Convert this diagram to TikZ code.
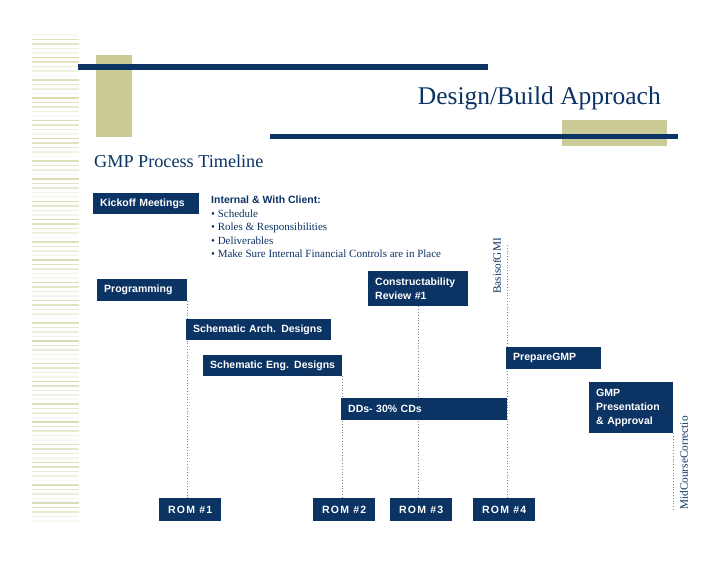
\documentclass[tikz,border=0pt]{standalone}
\usepackage{fontspec}
\setmainfont{Liberation Serif}
\setsansfont{Liberation Sans}
\usepackage{xcolor}
\usetikzlibrary{positioning, calc, backgrounds}
\definecolor{SlideNavy}{HTML}{0B3363}
\definecolor{SlideOlive}{HTML}{CBCB98}
\definecolor{StripeOlive}{HTML}{DCDCB6}
\definecolor{MileGray}{HTML}{7F889C}
\newcommand{\boxfont}{\sffamily\bfseries\fontsize{10.5}{14}\selectfont}
\newcommand{\romfont}{\boxfont\addfontfeature{LetterSpace=12}}
\tikzset{
  phase node/.style={rectangle, fill=SlideNavy, text=white, font=\boxfont,
                     anchor=north west, align=left, inner xsep=7pt, inner ysep=2pt},
  rom node/.style={phase node, font=\romfont, align=center,
                   minimum width=62pt, minimum height=23pt, inner xsep=0pt},
  mile line/.style={draw=MileGray, dotted, line width=0.8pt},
  stripe line/.style={draw=StripeOlive, line width=1.6pt},
  rot label/.style={rotate=90, text=SlideNavy, inner sep=0pt,
                    font=\fontsize{11.3}{13}\selectfont},
}

\begin{document}
\begin{tikzpicture}[x=1pt, y=-1pt]
  \begin{scope}[on background layer]
    \fill[white] (0,0) rectangle (728,563);
  \end{scope}
  \useasboundingbox (0,0) rectangle (728,563);
  \foreach \i in {0,...,108}{
    \pgfmathsetmacro{\sop}{0.2+0.1*mod(\i*7,9)}
    \draw[stripe line, opacity=\sop] (32,{35+\i*4.5}) -- (79,{35+\i*4.5});
  }
  \fill[SlideOlive] (96,55) rectangle (132,137);
  \fill[SlideNavy] (78,64) rectangle (488,70);
  \fill[SlideOlive] (562,120) rectangle (667,146);
  \fill[SlideNavy] (270,134) rectangle (678,139);

  \node[anchor=base east, text=SlideNavy, inner sep=0pt,
        font=\fontsize{25.5}{30}\selectfont] (title) at (661,104) {Design/Build Approach};
  \node[anchor=base west, text=SlideNavy, inner sep=0pt,
        font=\fontsize{18.2}{22}\selectfont] (subtitle) at (94,167) {GMP Process Timeline};

  \node[phase node, text width=92pt, minimum height=21pt] (kick) at (93,193) {Kickoff Meetings};
  \node[anchor=north west, align=left, text=SlideNavy, inner sep=0pt,
        font=\fontsize{11}{13.5}\selectfont] (client) at (211,196)
        {{\sffamily\bfseries\fontsize{10.5}{13.5}\selectfont Internal \& With Client:}\\
         \textbullet\ Schedule\\
         \textbullet\ Roles \& Responsibilities\\
         \textbullet\ Deliverables\\
         \textbullet\ Make Sure Internal Financial Controls are in Place};

  \node[phase node, text width=76pt, minimum height=22pt] (prog) at (97,279) {Programming};
  \node[phase node, text width=86pt, minimum height=35pt] (cons) at (368,271) {Constructability\\Review \#1};
  \node[phase node, text width=131pt, minimum height=21pt] (sarch) at (186,319) {Schematic Arch. Designs};
  \node[phase node, text width=125pt, minimum height=21pt] (seng) at (203,355) {Schematic Eng. Designs};
  \node[phase node, text width=81pt, minimum height=22pt] (prep) at (506,347) {PrepareGMP};
  \node[phase node, text width=152pt, minimum height=22pt] (dds) at (341,398) {DDs- 30\% CDs};
  \node[phase node, text width=70pt, minimum height=51pt] (gmp) at (589,382) {GMP\\Presentation\\\& Approval};

  \node[rot label] (basis) at (497,266) {BasisofGMI};
  \node[rot label] (midc) at (684,463) {MidCourseCorrectio};
  \coordinate (basistop) at (507,245);
  \coordinate (midend) at (0,510);

  \node[rom node] (rom1) at (159,498) {ROM \#1};
  \node[rom node] (rom2) at (313,498) {ROM \#2};
  \node[rom node] (rom3) at (390,498) {ROM \#3};
  \node[rom node] (rom4) at (473,498) {ROM \#4};

  \begin{scope}[on background layer]
    \draw[mile line] (prog.south east) -- (prog.south east |- rom1.north);
    \draw[mile line] (seng.south east) -- (seng.south east |- rom2.north);
    \draw[mile line] (cons.south) -- (cons.south |- rom3.north);
    \draw[mile line] (basistop) -- (basistop |- rom4.north);
    \draw[mile line] (gmp.south east) -- (gmp.south east |- midend);
  \end{scope}
\end{tikzpicture}
\end{document}
